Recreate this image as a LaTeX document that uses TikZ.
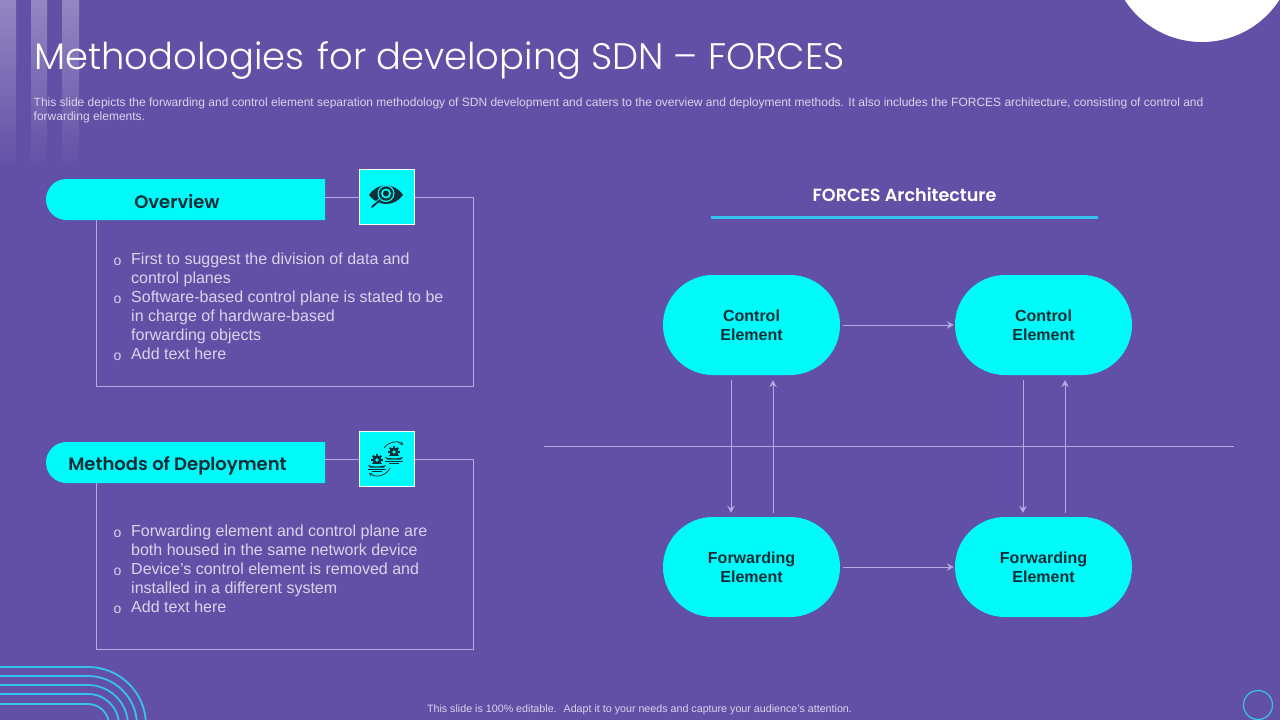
\documentclass[tikz,border=0pt]{standalone}
\usepackage{fontspec}
\setmainfont{Liberation Sans}
\newfontfamily\titlefont{Poppins Light}
\newfontfamily\headfont{Poppins SemiBold}
\usetikzlibrary{positioning,arrows.meta}
\definecolor{bgpurple}{HTML}{6250A6}
\definecolor{aqua}{HTML}{00FAFA}
\definecolor{skyline}{HTML}{35C3EE}
\definecolor{lilac}{HTML}{B9A9E2}
\definecolor{paletext}{HTML}{DAD3EC}
\definecolor{inkdark}{HTML}{0F2F38}
\newcommand{\bul}{\raisebox{-1pt}{\fontsize{14}{14}\selectfont o}}
\tikzset{
  element/.style={fill=aqua,rounded corners=50pt,minimum width=177pt,minimum height=100pt,
    align=center,text=inkdark,font=\fontsize{16}{19}\selectfont\bfseries,inner sep=0pt},
  headlabel/.style={anchor=base,text=inkdark,font=\fontsize{18}{22}\headfont,inner sep=0pt},
  iconbox/.style={fill=aqua,draw=white,line width=1pt,minimum size=55pt,inner sep=0pt},
  framebox/.style={draw=lilac,line width=1pt,minimum width=377pt,inner sep=0pt},
  bodytext/.style={text=paletext,font=\fontsize{16}{19}\selectfont,inner sep=0pt,anchor=north west},
  link/.style={draw=lilac,line width=1pt,-{Stealth[length=7pt,width=7.5pt,inset=2.5pt]}},
  swirl/.style={draw=skyline,line width=1.8pt}
}
\begin{document}
\begin{tikzpicture}[x=1pt,y=-1pt]
  \useasboundingbox[fill=bgpurple] (0,0) rectangle (1280,720);
  % corner decoration
  \foreach \barx/\barw in {0/16,31/16,62/17}
    \shade[top color=white!45!bgpurple,bottom color=bgpurple,draw=none,opacity=0.7]
      (\barx,0) rectangle (\barx+\barw,170);
  \begin{scope}
    \clip (0,0) rectangle (1280,720);
    \fill[white] (1202,-50) circle (92);
    \foreach \arcr in {58,49,40,31,21}
      \draw[swirl] (0,725-\arcr) -- (88,725-\arcr) arc[start angle=-90,end angle=0,radius=\arcr];
  \end{scope}
  \node[circle,draw=skyline,line width=1.2pt,minimum size=29pt,inner sep=0pt] (ring) at (1258,705) {};

  % title
  \node[anchor=base west,text=white,inner sep=0pt,font=\fontsize{36.9}{44}\titlefont] (title) at (34,69)
    {Methodologies\hspace{3pt} for developing SDN – FORCES};
  \node[anchor=north west,text=paletext,inner sep=0pt,align=left,font=\fontsize{12}{14}\selectfont] (subtitle) at (33.5,98)
    {This slide depicts the forwarding and control element separation methodology of SDN development and caters to the overview and deployment methods. It also includes the FORCES architecture, consisting of control and\\forwarding elements.};

  % left side
  \node[framebox,minimum height=189pt] (box1) at (285,291.5) {};
  \node[framebox,minimum height=190pt] (box2) at (285,554) {};
  \fill[aqua] (325,179) -- (66.5,179) arc[start angle=-90,end angle=-270,radius=20.5] -- (325,220) -- cycle;
  \fill[aqua] (325,442) -- (66.5,442) arc[start angle=-90,end angle=-270,radius=20.5] -- (325,483) -- cycle;
  \node[headlabel] (head1) at (177,208) {Overview};
  \node[headlabel] (head2) at (177.5,470) {Methods of Deployment};
  \node[iconbox] (icon1) at (387,197) {};
  \node[iconbox] (icon2) at (387,459) {};

  \node[bodytext] (text1) at (113.5,251) {\begin{tabular}{@{}p{10.5pt}@{\hspace{7pt}}l@{}}
    \bul & First to suggest the division of data and\\
         & control planes\\
    \bul & Software-based control plane is stated to be\\
         & in charge of hardware-based\\
         & forwarding objects\\
    \bul & Add text here
  \end{tabular}};
  \node[bodytext] (text2) at (113.5,523) {\begin{tabular}{@{}p{10.5pt}@{\hspace{7pt}}l@{}}
    \bul & Forwarding element and control plane are\\
         & both housed in the same network device\\
    \bul & Device's control element is removed and\\
         & installed in a different system\\
    \bul & Add text here
  \end{tabular}};

  % eye icon
  \fill[inkdark] (369,195) .. controls (378,182) and (394,182) .. (403,195)
    .. controls (394,207) and (378,207) .. (369,195) -- cycle;
  \fill[aqua] (386,193.5) circle (8.5);
  \fill[inkdark] (386,193.5) circle (7.2);
  \fill[aqua] (386,193.5) circle (5);
  \fill[inkdark] (386,193.5) circle (3);
  \draw[aqua,line width=3pt] (380,199.5) -- (372,207);
  \draw[inkdark,line width=1.8pt,line cap=round] (380,200) -- (372,207);

  % gears icon
  \foreach \gearx/\geary in {377/460,394/452} {
    \foreach \toothang in {0,45,...,315}
      \draw[inkdark,line width=2pt] (\gearx,\geary) -- ++(\toothang:6);
    \fill[inkdark] (\gearx,\geary) circle (4.6);
    \fill[aqua] (\gearx,\geary) circle (1.8);
    \fill[aqua] (\gearx-10,\geary+4) rectangle (\gearx+10,\geary+7);
    \fill[inkdark] (\gearx-9,\geary+5) .. controls (\gearx-4,\geary+7) and (\gearx+4,\geary+7) .. (\gearx+9,\geary+5)
      -- (\gearx+7,\geary+7.5) -- (\gearx-7,\geary+7.5) -- cycle;
    \draw[inkdark,line width=1pt] (\gearx-9,\geary+9) -- (\gearx+9,\geary+9);
    \draw[inkdark,line width=1pt] (\gearx-5,\geary+11) -- (\gearx+5,\geary+11);
  }
  \draw[inkdark,line width=0.8pt,-{Stealth[length=3.5pt,width=3.5pt]}] (384,448) .. controls (388,442) and (398,440) .. (403,445);
  \draw[inkdark,line width=0.8pt,-{Stealth[length=3.5pt,width=3.5pt]}] (390,468) .. controls (386,476) and (376,478) .. (369,473);

  % right side
  \node[anchor=base,text=white,font=\fontsize{17.6}{22}\headfont,inner sep=0pt] (archtitle) at (904.5,201) {FORCES Architecture};
  \coordinate (ulstart) at (711,217);
  \coordinate (ulend) at (1098,217);
  \draw[skyline,line width=3pt] (ulstart) -- (ulend);
  \coordinate (splitl) at (544,446);
  \coordinate (splitr) at (1234,446);
  \draw[lilac,line width=1pt] (splitl) -- (splitr);

  \node[element] (ctrl1) at (751.5,325) {Control\\Element};
  \node[element] (ctrl2) at (1043.5,325) {Control\\Element};
  \node[element] (fwd1) at (751.5,567) {Forwarding\\Element};
  \node[element] (fwd2) at (1043.5,567) {Forwarding\\Element};

  \path[link,shorten <=3pt,shorten >=1pt] (ctrl1) -- (ctrl2);
  \path[link,shorten <=3pt,shorten >=1pt] (fwd1) -- (fwd2);
  \path[link,shorten <=5pt,shorten >=4pt] ([xshift=-20.5pt]ctrl1.south) -- ([xshift=-20.5pt]fwd1.north);
  \path[link,shorten <=4pt,shorten >=5pt] ([xshift=21.5pt]fwd1.north) -- ([xshift=21.5pt]ctrl1.south);
  \path[link,shorten <=5pt,shorten >=4pt] ([xshift=-20.5pt]ctrl2.south) -- ([xshift=-20.5pt]fwd2.north);
  \path[link,shorten <=4pt,shorten >=5pt] ([xshift=21.5pt]fwd2.north) -- ([xshift=21.5pt]ctrl2.south);

  % footer
  \node[anchor=base,text=paletext,inner sep=0pt,font=\fontsize{10.7}{12}\selectfont] (footer) at (639.5,712)
    {This slide is 100\% editable.~ Adapt it to your needs and capture your audience's attention.};
\end{tikzpicture}
\end{document}
